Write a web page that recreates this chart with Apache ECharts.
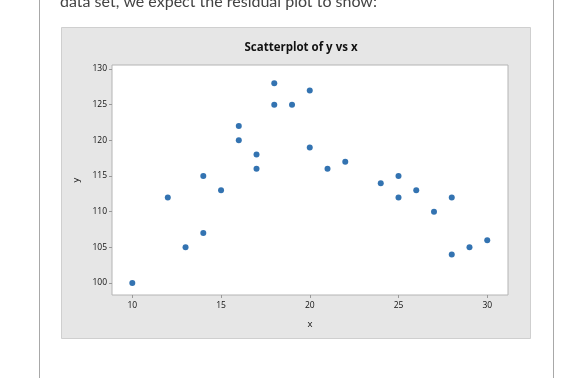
<!DOCTYPE html>
<html>
<head>
<meta charset="utf-8">
<script src="https://cdn.jsdelivr.net/npm/echarts@6/dist/echarts.min.js"></script>
<style>html,body{margin:0;padding:0;background:#fff;}#c{width:570px;height:378px;}</style>
</head>
<body>
<div id="c"></div>
<script>
var xValues = [10, 12, 13, 14, 14, 15, 16, 16, 17, 17, 18, 18, 19, 20, 20, 21, 22, 24, 25, 25, 26, 27, 28, 28, 29, 30];
var yValues = [100, 112, 105, 115, 107, 113, 122, 120, 118, 116, 128, 125, 125, 127, 119, 116, 117, 114, 115, 112, 113, 110, 112, 104, 105, 106];
var xTicks = [10, 15, 20, 25, 30];
var yTicks = [100, 105, 110, 115, 120, 125, 130];

var points = xValues.map(function (x, i) { return [x, yValues[i]]; });
var chart = echarts.init(document.getElementById('c'), null, {renderer: 'canvas'});
var font = '"Open Sans", "Noto Sans", sans-serif';
chart.setOption({
  backgroundColor: '#fff',
  animation: false,
  graphic: [
    {type: 'line', shape: {x1: 39.5, y1: 0, x2: 39.5, y2: 378}, style: {stroke: '#a8a8a8', lineWidth: 1}, z: -10},
    {type: 'line', shape: {x1: 553.5, y1: 0, x2: 553.5, y2: 378}, style: {stroke: '#a8a8a8', lineWidth: 1}, z: -10},
    {type: 'rect', shape: {x: 61.5, y: 27.5, width: 469, height: 311}, style: {fill: '#e6e6e6', stroke: '#cfcfcf', lineWidth: 1}, z: -10},
    {type: 'text', left: 60, top: -6, style: {text: 'data set, we expect the residual plot to show:', fill: '#444', font: '16px Lato, "Open Sans", sans-serif'}, z: -10}
  ],
  title: {
    text: 'Scatterplot of y vs x',
    left: 296, top: 37, textAlign: 'center',
    textStyle: {fontSize: 11.5, fontWeight: 'bold', color: '#111', fontFamily: font}
  },
  grid: {
    left: 112, top: 65, width: 396, height: 230,
    show: true, backgroundColor: '#fff', borderColor: '#b4b4b4', borderWidth: 1
  },
  xAxis: {
    type: 'value', min: 8.856, max: 31.17,
    name: 'x', nameLocation: 'middle', nameGap: 24,
    nameTextStyle: {fontSize: 9.5, color: '#111', fontFamily: font},
    axisLine: {show: false},
    splitLine: {show: false},
    axisTick: {show: true, length: 3, lineStyle: {color: '#999'}, customValues: xTicks},
    axisLabel: {fontSize: 8.5, color: '#111', margin: 6, fontFamily: font, customValues: xTicks}
  },
  yAxis: {
    type: 'value', min: 98.32, max: 130.56,
    name: 'y', nameLocation: 'middle', nameGap: 29, nameRotate: 90,
    nameTextStyle: {fontSize: 9.5, color: '#111', fontFamily: font},
    axisLine: {show: false},
    splitLine: {show: false},
    axisTick: {show: true, length: 3, lineStyle: {color: '#999'}, customValues: yTicks},
    axisLabel: {fontSize: 8.5, color: '#111', margin: 5, fontFamily: font, customValues: yTicks}
  },
  series: [{
    type: 'scatter', data: points, symbol: 'circle', symbolSize: 6,
    itemStyle: {color: '#00509e'}
  }]
});
</script>
</body>
</html>
